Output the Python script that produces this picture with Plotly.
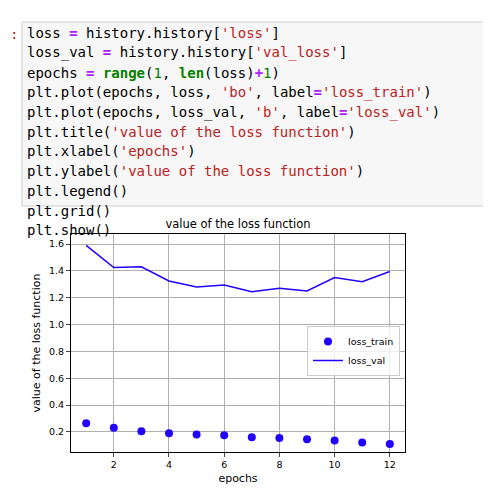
import plotly.graph_objects as go

epochs = list(range(1, 13))
loss_train = [0.265, 0.23, 0.205, 0.19, 0.18, 0.175, 0.16, 0.155, 0.145, 0.135, 0.12, 0.11]
loss_val = [1.59, 1.425, 1.43, 1.325, 1.28, 1.295, 1.245, 1.27, 1.25, 1.35, 1.32, 1.395]
yticks = [0.2, 0.4, 0.6, 0.8, 1.0, 1.2, 1.4, 1.6]
xticks = [2, 4, 6, 8, 10, 12]

EQ = "<span style='color:#AA22FF'><b>=</b></span>"
PL = "<span style='color:#AA22FF'><b>+</b></span>"
def s(t): return f"<span style='color:#BA2121'>'{t}'</span>"
def g(t): return f"<span style='color:#008000'><b>{t}</b></span>"
def n(t): return f"<span style='color:#008000'>{t}</span>"
code_lines = [
    f"loss {EQ} history.history[{s('loss')}]",
    f"loss_val {EQ} history.history[{s('val_loss')}]",
    f"epochs {EQ} {g('range')}({n('1')}, {g('len')}(loss){PL}{n('1')})",
    f"plt.plot(epochs, loss, {s('bo')}, label{EQ}{s('loss_train')})",
    f"plt.plot(epochs, loss_val, {s('b')}, label{EQ}{s('loss_val')})",
    f"plt.title({s('value of the loss function')})",
    f"plt.xlabel({s('epochs')})",
    f"plt.ylabel({s('value of the loss function')})",
    "plt.legend()",
    "plt.grid()",
    "plt.show()",
]

fig = go.Figure()
fig.add_trace(go.Scatter(x=epochs, y=loss_train, mode="markers", name="loss_train",
                         marker=dict(color="#2200ff", size=8)))
fig.add_trace(go.Scatter(x=epochs, y=loss_val, mode="lines", name="loss_val",
                         line=dict(color="#2200ff", width=1.5)))

fig.add_shape(type="rect", xref="paper", yref="paper", x0=14/491, x1=1.01, y0=1-198/489, y1=1-14/489,
              fillcolor="#f7f7f7", line=dict(color="#cfcfcf", width=1), layer="below")
fig.add_annotation(text="<span style='color:#BA2121'>:</span>", xref="paper", yref="paper",
                   x=0, y=1-26/489, showarrow=False, xanchor="left", yanchor="middle",
                   font=dict(family="DejaVu Sans Mono", size=14))
for i, line in enumerate(code_lines):
    fig.add_annotation(text=line, xref="paper", yref="paper", x=17/491, y=1-(25+19.75*i)/489,
                       showarrow=False, xanchor="left", yanchor="middle",
                       font=dict(family="DejaVu Sans Mono", size=14, color="#000"))

fig.update_layout(
    width=491, height=489, margin=dict(l=0, r=0, t=0, b=0),
    paper_bgcolor="white", plot_bgcolor="white",
    font=dict(family="DejaVu Sans", size=9.5, color="black"),
    title=dict(text="value of the loss function", x=230/491, xanchor="center", y=1-216/489,
               yanchor="middle", font=dict(size=11.5)),
    xaxis=dict(domain=[63/491, 397/491], range=[0.45, 12.55], tickvals=xticks, showgrid=True,
               gridcolor="#b0b0b0", ticks="outside", ticklen=4, mirror=True, showline=True,
               linecolor="black", zeroline=False, title=dict(text="epochs", standoff=4)),
    yaxis=dict(domain=[1-444/489, 1-226/489], range=[0.05, 1.675], tickvals=yticks,
               tickformat=".1f", showgrid=True, gridcolor="#b0b0b0", ticks="outside", ticklen=4,
               mirror=True, showline=True, linecolor="black", zeroline=False,
               title=dict(text="value of the loss function", standoff=6)),
    legend=dict(x=392/491, y=1-318/489, xanchor="right", yanchor="top", bordercolor="#cccccc",
                borderwidth=1, bgcolor="rgba(255,255,255,0.8)", font=dict(size=9.5)),
)
fig.write_html("out.html")
